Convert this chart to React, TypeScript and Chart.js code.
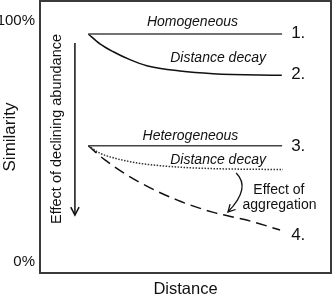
import React, { useEffect, useRef } from "react";
import { Chart, registerables } from "chart.js";

Chart.register(...registerables);

const FONT = "'Liberation Sans', Arial, Helvetica, sans-serif";

// Distance (arbitrary 0-100 units) and similarity (%)
const homogeneousX = [16.6, 83.2];
const homogeneousY = [94.6, 94.6];
const decayX = [16.6, 20.6, 25.2, 30.9, 36.7, 48.1, 59.5, 83.1];
const decayY = [94.6, 90.5, 87.2, 83.9, 81.4, 79.2, 78.1, 77.4];
const heterogeneousX = [16.6, 83.2];
const heterogeneousY = [48.1, 48.1];
const hetDecayX = [16.6, 20.6, 25.2, 30.9, 36.7, 48.1, 59.5, 83.5];
const hetDecayY = [48.1, 45.0, 43.1, 41.5, 40.4, 39.2, 38.6, 38.2];
const aggregX = [16.6, 22.3, 33.8, 47.0, 59.6, 71.0, 82.5];
const aggregY = [48.1, 42.2, 33.2, 25.6, 20.4, 17.2, 13.1];

const yTickValues = [0, 100];
const yTickLabels = ["0%", "100%"];

// Curve labels (data coordinates)
const curveLabels = ["Homogeneous", "Distance decay", "Heterogeneous", "Distance decay"];
const curveLabelX = [52.4, 61.2, 51.7, 61.2];
const curveLabelY = [99.6, 84.6, 52.2, 42.2];
const curveNumbers = ["1.", "2.", "3.", "4."];
const curveNumberX = [86.3, 86.3, 86.3, 86.3];
const curveNumberY = [95.0, 78.0, 48.0, 11.0];

// Annotation arrows (data coordinates)
const abundanceArrowX = [12.0, 12.0];
const abundanceArrowY = [90.8, 19.3];
const abundanceLabel = "Effect of declining abundance";
const abundanceLabelPos = [5.7, 55.1];
const aggregationArrowX = [67.4, 69.3, 64.6]; // start, through, end
const aggregationArrowY = [36.8, 29.7, 20.6];
const aggregationLabel = ["Effect of", "aggregation"];
const aggregationLabelX = [82.1, 82.3];
const aggregationLabelY = [29.7, 23.3];

const toPoints = (xs: number[], ys: number[]) => xs.map((x, i) => ({ x, y: ys[i] }));

function drawHead(ctx: CanvasRenderingContext2D, tx: number, ty: number, angle: number, len: number, spread: number) {
  ctx.beginPath();
  ctx.moveTo(tx - len * Math.cos(angle - spread), ty - len * Math.sin(angle - spread));
  ctx.lineTo(tx, ty);
  ctx.lineTo(tx - len * Math.cos(angle + spread), ty - len * Math.sin(angle + spread));
  ctx.stroke();
}

const annotationPlugin = {
  id: "annotations",
  afterDatasetsDraw(chart: any) {
    const { ctx, chartArea, scales } = chart;
    const sx = scales.x;
    const sy = scales.y;
    const px = (v: number) => sx.getPixelForValue(v);
    const py = (v: number) => sy.getPixelForValue(v);
    ctx.save();

    // frame
    ctx.strokeStyle = "#3a3a3a";
    ctx.lineWidth = 2;
    ctx.strokeRect(chartArea.left, chartArea.top, chartArea.right - chartArea.left, chartArea.bottom - chartArea.top);

    ctx.fillStyle = "#111";
    ctx.textAlign = "center";
    ctx.textBaseline = "middle";

    // curve labels
    ctx.font = `italic 14px ${FONT}`;
    curveLabels.forEach((t, i) => ctx.fillText(t, px(curveLabelX[i]), py(curveLabelY[i])));

    // numbers
    ctx.font = `17px ${FONT}`;
    ctx.textAlign = "left";
    curveNumbers.forEach((t, i) => ctx.fillText(t, px(curveNumberX[i]), py(curveNumberY[i])));

    // aggregation label
    ctx.textAlign = "center";
    ctx.font = `14px ${FONT}`;
    aggregationLabel.forEach((t, i) => ctx.fillText(t, px(aggregationLabelX[i]), py(aggregationLabelY[i])));

    // vertical abundance label
    ctx.save();
    ctx.translate(px(abundanceLabelPos[0]), py(abundanceLabelPos[1]));
    ctx.rotate(-Math.PI / 2);
    ctx.font = `14.5px ${FONT}`;
    ctx.fillText(abundanceLabel, 0, 0);
    ctx.restore();

    // abundance arrow
    ctx.strokeStyle = "#111";
    ctx.lineWidth = 1.5;
    const ax0 = px(abundanceArrowX[0]);
    const ay0 = py(abundanceArrowY[0]);
    const ax1 = px(abundanceArrowX[1]);
    const ay1 = py(abundanceArrowY[1]);
    ctx.beginPath();
    ctx.moveTo(ax0, ay0);
    ctx.lineTo(ax1, ay1);
    ctx.stroke();
    drawHead(ctx, ax1, ay1, Math.atan2(ay1 - ay0, ax1 - ax0), 9, 0.48);

    // aggregation curved arrow
    const s = { x: px(aggregationArrowX[0]), y: py(aggregationArrowY[0]) };
    const m = { x: px(aggregationArrowX[1]), y: py(aggregationArrowY[1]) };
    const e = { x: px(aggregationArrowX[2]), y: py(aggregationArrowY[2]) };
    const c = { x: 2 * m.x - (s.x + e.x) / 2, y: 2 * m.y - (s.y + e.y) / 2 };
    ctx.lineWidth = 1.3;
    ctx.beginPath();
    ctx.moveTo(s.x, s.y);
    ctx.quadraticCurveTo(c.x, c.y, e.x, e.y);
    ctx.stroke();
    drawHead(ctx, e.x, e.y, Math.atan2(e.y - c.y, e.x - c.x), 8, 0.5);

    ctx.restore();
  },
};

export default function App() {
  const ref = useRef<HTMLCanvasElement | null>(null);
  useEffect(() => {
    if (!ref.current) return;
    const line = (xs: number[], ys: number[], color: string, width: number, dash: number[] = []) => ({
      data: toPoints(xs, ys),
      borderColor: color,
      borderWidth: width,
      borderDash: dash,
      pointRadius: 0,
      fill: false,
      cubicInterpolationMode: "monotone" as const,
    });
    const chart = new Chart(ref.current, {
      type: "line",
      data: {
        datasets: [
          line(homogeneousX, homogeneousY, "#444", 1.5),
          line(decayX, decayY, "#111", 1.5),
          line(heterogeneousX, heterogeneousY, "#444", 1.5),
          line(hetDecayX, hetDecayY, "#333", 1.5, [1.5, 1.5]),
          line(aggregX, aggregY, "#111", 1.5, [11, 6]),
        ],
      },
      options: {
        animation: false,
        responsive: false,
        layout: { padding: { top: 1, right: 1, left: 0, bottom: 0 } },
        plugins: { legend: { display: false }, tooltip: { enabled: false } },
        scales: {
          x: {
            type: "linear",
            min: 0,
            max: 100,
            grid: { display: false, drawTicks: false },
            border: { display: false },
            ticks: { display: false },
            title: {
              display: true,
              text: "Distance",
              color: "#111",
              font: { family: FONT, size: 16.5, lineHeight: 0.85 },
              padding: { top: 0, bottom: 0 },
            },
            afterFit: (s: any) => {
              s.height = 23;
              s.paddingLeft = 0;
              s.paddingRight = 0;
            },
          },
          y: {
            type: "linear",
            min: -4.8,
            max: 108.3,
            afterBuildTicks: (s: any) => {
              s.ticks = yTickValues.map((v) => ({ value: v }));
            },
            grid: { display: false, drawTicks: false },
            border: { display: false },
            ticks: {
              color: "#111",
              padding: 5,
              font: { family: FONT, size: 15 },
              callback: (v: any) => yTickLabels[yTickValues.indexOf(Number(v))],
            },
            title: {
              display: true,
              text: "Similarity",
              color: "#111",
              font: { family: FONT, size: 17, lineHeight: 1.2 },
              padding: { top: 0, bottom: 0 },
            },
            afterFit: (s: any) => {
              s.width = 40;
              s.paddingTop = 0;
              s.paddingBottom = 0;
            },
          },
        },
      },
      plugins: [annotationPlugin],
    });
    return () => chart.destroy();
  }, []);
  return (
    <div style={{ position: "absolute", left: 0, top: 0, width: 332, height: 296, background: "#fff" }}>
      <canvas ref={ref} width={332} height={296} style={{ display: "block", width: 332, height: 296 }} />
    </div>
  );
}
